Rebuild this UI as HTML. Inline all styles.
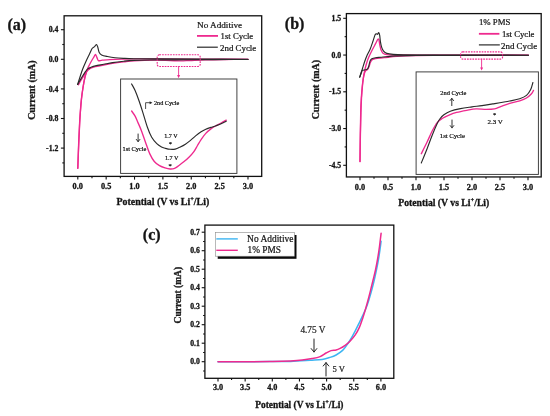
<!DOCTYPE html>
<html><head><meta charset="utf-8"><title>Figure</title>
<style>
html,body{margin:0;padding:0;background:#fff;}
svg{display:block;filter:blur(0.3px);font-family:"Liberation Serif","Times New Roman",serif;}
</style></head><body>
<svg width="550" height="416" viewBox="0 0 550 416">
<rect width="550" height="416" fill="#fff"/>
<path d="M248.00 59.40 C244.17 59.42 232.17 59.43 225.00 59.50 C217.83 59.57 210.83 59.63 205.00 59.80 C199.17 59.97 194.00 60.32 190.00 60.50 C186.00 60.68 184.33 60.88 181.00 60.90 C177.67 60.92 174.33 60.72 170.00 60.60 C165.67 60.48 161.00 60.17 155.00 60.20 C149.00 60.23 139.18 60.53 134.00 60.80 C128.82 61.07 127.48 61.38 123.90 61.80 C120.32 62.22 115.87 62.77 112.50 63.30 C109.13 63.83 106.57 64.43 103.70 65.00 C100.83 65.57 97.48 66.17 95.30 66.70 C93.12 67.23 91.72 67.75 90.60 68.20 C89.48 68.65 89.27 68.77 88.60 69.40 C87.93 70.03 87.22 70.62 86.60 72.00 C85.98 73.38 85.50 75.12 84.90 77.70 C84.30 80.28 83.58 83.95 83.00 87.50 C82.42 91.05 81.85 94.92 81.40 99.00 C80.95 103.08 80.60 108.00 80.30 112.00 C80.00 116.00 79.88 117.50 79.60 123.00 C79.32 128.50 78.90 137.45 78.60 145.00 C78.30 152.55 77.93 164.42 77.80 168.30" fill="none" stroke="#ee2a8f" stroke-width="1.35" stroke-linejoin="round" stroke-linecap="round" />
<path d="M77.80 168.30 C77.95 164.42 78.38 152.55 78.70 145.00 C79.02 137.45 79.42 128.50 79.70 123.00 C79.98 117.50 80.10 116.00 80.40 112.00 C80.70 108.00 81.05 103.17 81.50 99.00 C81.95 94.83 82.55 90.55 83.10 87.00 C83.65 83.45 84.28 80.12 84.80 77.70 C85.32 75.28 85.67 74.18 86.20 72.50 C86.73 70.82 87.17 69.43 88.00 67.60 C88.83 65.77 90.20 63.30 91.20 61.50 C92.20 59.70 93.28 57.98 94.00 56.80 C94.72 55.62 95.02 54.30 95.50 54.40 C95.98 54.50 96.42 56.37 96.90 57.40 C97.38 58.43 97.50 60.13 98.40 60.60 C99.30 61.07 100.38 60.37 102.30 60.20 C104.22 60.03 106.72 59.78 109.90 59.60 C113.08 59.42 117.38 59.23 121.40 59.10 C125.42 58.97 127.57 58.83 134.00 58.80 C140.43 58.77 149.00 58.85 160.00 58.90 C171.00 58.95 185.33 59.03 200.00 59.10 C214.67 59.17 240.00 59.27 248.00 59.30" fill="none" stroke="#ee2a8f" stroke-width="1.35" stroke-linejoin="round" stroke-linecap="round" />
<path d="M90.60 68.30 C90.07 68.65 88.28 69.57 87.40 70.40 C86.52 71.23 86.02 72.23 85.30 73.30 C84.58 74.37 83.88 75.52 83.10 76.80 C82.32 78.08 81.38 79.67 80.60 81.00 C79.82 82.33 78.77 84.17 78.40 84.80" fill="none" stroke="#ee2a8f" stroke-width="1.3" stroke-linejoin="round" stroke-linecap="round" />
<path d="M77.60 84.50 C78.00 83.25 79.17 79.53 80.00 77.00 C80.83 74.47 81.65 71.80 82.60 69.30 C83.55 66.80 84.55 64.55 85.70 62.00 C86.85 59.45 88.43 56.25 89.50 54.00 C90.57 51.75 91.25 49.73 92.10 48.50 C92.95 47.27 93.87 47.27 94.60 46.60 C95.33 45.93 95.97 44.40 96.50 44.50 C97.03 44.60 97.37 45.90 97.80 47.20 C98.23 48.50 98.47 51.02 99.10 52.30 C99.73 53.58 100.22 54.20 101.60 54.90 C102.98 55.60 105.17 56.02 107.40 56.50 C109.63 56.98 112.25 57.48 115.00 57.80 C117.75 58.12 120.73 58.25 123.90 58.40 C127.07 58.55 127.98 58.62 134.00 58.70 C140.02 58.78 149.00 58.83 160.00 58.90 C171.00 58.97 185.33 59.03 200.00 59.10 C214.67 59.17 240.00 59.27 248.00 59.30" fill="none" stroke="#2a2a2a" stroke-width="1.15" stroke-linejoin="round" stroke-linecap="round" />
<path d="M248.00 59.50 C242.50 59.52 224.67 59.55 215.00 59.60 C205.33 59.65 197.50 59.75 190.00 59.80 C182.50 59.85 176.67 59.87 170.00 59.90 C163.33 59.93 156.00 59.92 150.00 60.00 C144.00 60.08 138.35 60.20 134.00 60.40 C129.65 60.60 127.48 60.83 123.90 61.20 C120.32 61.57 115.87 62.08 112.50 62.60 C109.13 63.12 106.57 63.75 103.70 64.30 C100.83 64.85 97.55 65.35 95.30 65.90 C93.05 66.45 91.37 67.17 90.20 67.60 C89.03 68.03 88.87 68.13 88.30 68.50 C87.73 68.87 87.38 69.12 86.80 69.80 C86.22 70.48 85.50 71.57 84.80 72.60 C84.10 73.63 83.40 74.70 82.60 76.00 C81.80 77.30 80.83 78.98 80.00 80.40 C79.17 81.82 78.00 83.82 77.60 84.50" fill="none" stroke="#2a2a2a" stroke-width="1.15" stroke-linejoin="round" stroke-linecap="round" />
<rect x="64.10" y="15.80" width="197.60" height="160.60" fill="none" stroke="#111" stroke-width="1.3"/>
<line x1="77.80" y1="176.40" x2="77.80" y2="179.60" stroke="#111" stroke-width="1.1"/>
<text x="77.80" y="189.00" font-size="8.3" font-weight="bold" text-anchor="middle" fill="#141414" stroke="#141414" stroke-width="0.3" >0.0</text>
<line x1="106.16" y1="176.40" x2="106.16" y2="179.60" stroke="#111" stroke-width="1.1"/>
<text x="106.16" y="189.00" font-size="8.3" font-weight="bold" text-anchor="middle" fill="#141414" stroke="#141414" stroke-width="0.3" >0.5</text>
<line x1="134.53" y1="176.40" x2="134.53" y2="179.60" stroke="#111" stroke-width="1.1"/>
<text x="134.53" y="189.00" font-size="8.3" font-weight="bold" text-anchor="middle" fill="#141414" stroke="#141414" stroke-width="0.3" >1.0</text>
<line x1="162.89" y1="176.40" x2="162.89" y2="179.60" stroke="#111" stroke-width="1.1"/>
<text x="162.89" y="189.00" font-size="8.3" font-weight="bold" text-anchor="middle" fill="#141414" stroke="#141414" stroke-width="0.3" >1.5</text>
<line x1="191.26" y1="176.40" x2="191.26" y2="179.60" stroke="#111" stroke-width="1.1"/>
<text x="191.26" y="189.00" font-size="8.3" font-weight="bold" text-anchor="middle" fill="#141414" stroke="#141414" stroke-width="0.3" >2.0</text>
<line x1="219.62" y1="176.40" x2="219.62" y2="179.60" stroke="#111" stroke-width="1.1"/>
<text x="219.62" y="189.00" font-size="8.3" font-weight="bold" text-anchor="middle" fill="#141414" stroke="#141414" stroke-width="0.3" >2.5</text>
<line x1="247.99" y1="176.40" x2="247.99" y2="179.60" stroke="#111" stroke-width="1.1"/>
<text x="247.99" y="189.00" font-size="8.3" font-weight="bold" text-anchor="middle" fill="#141414" stroke="#141414" stroke-width="0.3" >3.0</text>
<line x1="91.98" y1="176.40" x2="91.98" y2="178.20" stroke="#111" stroke-width="1.1"/>
<line x1="120.35" y1="176.40" x2="120.35" y2="178.20" stroke="#111" stroke-width="1.1"/>
<line x1="148.71" y1="176.40" x2="148.71" y2="178.20" stroke="#111" stroke-width="1.1"/>
<line x1="177.08" y1="176.40" x2="177.08" y2="178.20" stroke="#111" stroke-width="1.1"/>
<line x1="205.44" y1="176.40" x2="205.44" y2="178.20" stroke="#111" stroke-width="1.1"/>
<line x1="233.81" y1="176.40" x2="233.81" y2="178.20" stroke="#111" stroke-width="1.1"/>
<line x1="60.90" y1="29.70" x2="64.10" y2="29.70" stroke="#111" stroke-width="1.1"/>
<text x="58.40" y="32.30" font-size="7.750000000000001" font-weight="bold" text-anchor="end" fill="#141414" stroke="#141414" stroke-width="0.3" >0.4</text>
<line x1="60.90" y1="59.30" x2="64.10" y2="59.30" stroke="#111" stroke-width="1.1"/>
<text x="58.40" y="61.90" font-size="7.750000000000001" font-weight="bold" text-anchor="end" fill="#141414" stroke="#141414" stroke-width="0.3" >0.0</text>
<line x1="60.90" y1="88.90" x2="64.10" y2="88.90" stroke="#111" stroke-width="1.1"/>
<text x="58.40" y="91.50" font-size="7.750000000000001" font-weight="bold" text-anchor="end" fill="#141414" stroke="#141414" stroke-width="0.3" >-0.4</text>
<line x1="60.90" y1="118.50" x2="64.10" y2="118.50" stroke="#111" stroke-width="1.1"/>
<text x="58.40" y="121.10" font-size="7.750000000000001" font-weight="bold" text-anchor="end" fill="#141414" stroke="#141414" stroke-width="0.3" >-0.8</text>
<line x1="60.90" y1="148.10" x2="64.10" y2="148.10" stroke="#111" stroke-width="1.1"/>
<text x="58.40" y="150.70" font-size="7.750000000000001" font-weight="bold" text-anchor="end" fill="#141414" stroke="#141414" stroke-width="0.3" >-1.2</text>
<line x1="62.30" y1="44.50" x2="64.10" y2="44.50" stroke="#111" stroke-width="1.1"/>
<line x1="62.30" y1="74.10" x2="64.10" y2="74.10" stroke="#111" stroke-width="1.1"/>
<line x1="62.30" y1="103.70" x2="64.10" y2="103.70" stroke="#111" stroke-width="1.1"/>
<line x1="62.30" y1="133.30" x2="64.10" y2="133.30" stroke="#111" stroke-width="1.1"/>
<line x1="62.30" y1="162.90" x2="64.10" y2="162.90" stroke="#111" stroke-width="1.1"/>
<text x="162.90" y="204.90" font-size="9.9" font-weight="bold" text-anchor="middle" fill="#141414" stroke="#141414" stroke-width="0.3" >Potential (V vs Li<tspan font-size="6.4" dy="-3.7">+</tspan><tspan dy="3.7">/Li)</tspan></text>
<text transform="translate(35.40 90.10) rotate(-90)" font-size="10.0" font-weight="bold" text-anchor="middle" fill="#1a1a1a" stroke="#1a1a1a" stroke-width="0.3">Current (mA)</text>
<text x="7.50" y="30.00" font-size="16" font-weight="bold" text-anchor="start" fill="#141414" stroke="#141414" stroke-width="0.3" >(a)</text>
<text x="197.00" y="27.70" font-size="9.2"  text-anchor="start" fill="#141414" stroke="#141414" stroke-width="0.22" >No Additive</text>
<line x1="197" y1="35.9" x2="218" y2="35.9" stroke="#ee2a8f" stroke-width="1.8"/>
<text x="220.60" y="39.30" font-size="8.7"  text-anchor="start" fill="#141414" stroke="#141414" stroke-width="0.22" >1st Cycle</text>
<line x1="197" y1="47.2" x2="217.8" y2="47.2" stroke="#2a2a2a" stroke-width="1.2"/>
<text x="220.00" y="50.80" font-size="8.9"  text-anchor="start" fill="#141414" stroke="#141414" stroke-width="0.22" >2nd Cycle</text>
<rect x="157.20" y="54.80" width="43.00" height="11.70" rx="2.2" ry="2.2" fill="none" stroke="#ee2a8f" stroke-width="1.1" stroke-dasharray="1.7 1.0"/>
<path d="M178.60 66.50 L178.60 76.20" fill="none" stroke="#ee2a8f" stroke-width="0.9" stroke-linejoin="round" stroke-linecap="round" />
<path d="M177.10 75.00 L180.10 75.00 L178.60 78.20 Z" fill="#ee2a8f"/>
<rect x="120.6" y="79.0" width="116.3" height="94.4" fill="#fff" stroke="#3a3a3a" stroke-width="0.95"/>
<path d="M131.60 111.00 C132.18 111.85 134.08 114.27 135.10 116.10 C136.12 117.93 136.63 119.53 137.70 122.00 C138.77 124.47 140.12 127.28 141.50 130.90 C142.88 134.52 144.62 139.87 146.00 143.70 C147.38 147.53 148.42 150.93 149.80 153.90 C151.18 156.87 152.68 159.55 154.30 161.50 C155.92 163.45 157.72 164.53 159.50 165.60 C161.28 166.67 163.23 167.33 165.00 167.90 C166.77 168.47 168.50 168.92 170.10 169.00 C171.70 169.08 173.12 168.98 174.60 168.40 C176.08 167.82 177.42 166.63 179.00 165.50 C180.58 164.37 182.40 163.02 184.10 161.60 C185.80 160.18 187.60 158.62 189.20 157.00 C190.80 155.38 192.32 153.82 193.70 151.90 C195.08 149.98 196.22 147.63 197.50 145.50 C198.78 143.37 200.02 141.12 201.40 139.10 C202.78 137.08 204.22 135.10 205.80 133.40 C207.38 131.70 209.20 130.18 210.90 128.90 C212.60 127.62 214.30 126.68 216.00 125.70 C217.70 124.72 219.40 123.92 221.10 123.00 C222.80 122.08 225.35 120.67 226.20 120.20" fill="none" stroke="#ee2a8f" stroke-width="1.35" stroke-linejoin="round" stroke-linecap="round" />
<path d="M131.60 83.90 C132.18 85.02 133.87 87.78 135.10 90.60 C136.33 93.42 137.72 97.18 139.00 100.80 C140.28 104.42 141.42 107.93 142.80 112.30 C144.18 116.67 145.82 122.83 147.30 127.00 C148.78 131.17 150.12 134.52 151.70 137.30 C153.28 140.08 155.17 142.08 156.80 143.70 C158.43 145.32 160.13 146.25 161.50 147.00 C162.87 147.75 163.57 147.82 165.00 148.20 C166.43 148.58 168.40 149.15 170.10 149.30 C171.80 149.45 173.50 149.48 175.20 149.10 C176.90 148.72 178.60 147.82 180.30 147.00 C182.00 146.18 183.70 145.30 185.40 144.20 C187.10 143.10 188.80 141.78 190.50 140.40 C192.20 139.02 193.90 137.28 195.60 135.90 C197.30 134.52 199.00 133.22 200.70 132.10 C202.40 130.98 204.10 129.98 205.80 129.20 C207.50 128.42 209.20 127.98 210.90 127.40 C212.60 126.82 214.30 126.30 216.00 125.70 C217.70 125.10 219.40 124.55 221.10 123.80 C222.80 123.05 225.35 121.63 226.20 121.20" fill="none" stroke="#2a2a2a" stroke-width="1.15" stroke-linejoin="round" stroke-linecap="round" />
<text x="154.00" y="104.80" font-size="6.2"  text-anchor="start" fill="#141414" stroke="#141414" stroke-width="0.22" >2nd Cycle</text>
<path d="M145.6 108.6 L145.6 102.7 L150.2 102.7" fill="none" stroke="#222" stroke-width="0.8" stroke-linejoin="round" stroke-linecap="round" />
<path d="M149.6 101.2 L152.4 102.7 L149.6 104.2 Z" fill="#222"/>
<text x="122.60" y="150.80" font-size="6.3"  text-anchor="start" fill="#141414" stroke="#141414" stroke-width="0.22" >1st Cycle</text>
<path d="M138.10 134.00 L138.10 141.60" fill="none" stroke="#1a1a1a" stroke-width="0.9" stroke-linejoin="round" stroke-linecap="round" />
<path d="M136.30 139.40 L138.10 141.60 L139.90 139.40" fill="none" stroke="#1a1a1a" stroke-width="0.9" stroke-linejoin="round" stroke-linecap="round" />
<text x="164.20" y="138.00" font-size="6.1"  text-anchor="start" fill="#141414" stroke="#141414" stroke-width="0.22" >1.7 V</text>
<text x="170.30" y="146.20" font-size="6.5"  text-anchor="middle" fill="#141414" stroke="#141414" stroke-width="0.22" >*</text>
<text x="164.90" y="160.30" font-size="6.1"  text-anchor="start" fill="#141414" stroke="#141414" stroke-width="0.22" >1.7 V</text>
<text x="170.10" y="167.50" font-size="6.5"  text-anchor="middle" fill="#141414" stroke="#141414" stroke-width="0.22" >*</text>
<path d="M528.40 55.30 C520.33 55.30 494.73 55.28 480.00 55.30 C465.27 55.32 450.67 55.35 440.00 55.40 C429.33 55.45 423.17 55.43 416.00 55.60 C408.83 55.77 402.28 56.05 397.00 56.40 C391.72 56.75 387.87 57.35 384.30 57.70 C380.73 58.05 377.60 58.18 375.60 58.50 C373.60 58.82 373.15 58.98 372.30 59.60 C371.45 60.22 371.03 61.05 370.50 62.20 C369.97 63.35 369.57 65.30 369.10 66.50 C368.63 67.70 368.28 68.68 367.70 69.40 C367.12 70.12 366.20 69.95 365.60 70.80 C365.00 71.65 364.50 73.13 364.10 74.50 C363.70 75.87 363.50 77.08 363.20 79.00 C362.90 80.92 362.62 82.78 362.30 86.00 C361.98 89.22 361.57 93.80 361.30 98.30 C361.03 102.80 360.87 106.88 360.70 113.00 C360.53 119.12 360.42 126.92 360.30 135.00 C360.18 143.08 360.05 157.08 360.00 161.50" fill="none" stroke="#ee2a8f" stroke-width="1.35" stroke-linejoin="round" stroke-linecap="round" />
<path d="M360.00 161.50 C360.07 157.08 360.25 143.08 360.40 135.00 C360.55 126.92 360.72 119.12 360.90 113.00 C361.08 106.88 361.23 102.88 361.50 98.30 C361.77 93.72 362.18 88.92 362.50 85.50 C362.82 82.08 363.05 80.22 363.40 77.80 C363.75 75.38 364.12 73.25 364.60 71.00 C365.08 68.75 365.63 66.53 366.30 64.30 C366.97 62.07 367.62 59.98 368.60 57.60 C369.58 55.22 371.03 52.33 372.20 50.00 C373.37 47.67 374.67 45.37 375.60 43.60 C376.53 41.83 377.25 40.03 377.80 39.40 C378.35 38.77 378.57 38.88 378.90 39.80 C379.23 40.72 379.43 43.20 379.80 44.90 C380.17 46.60 380.57 48.62 381.10 50.00 C381.63 51.38 382.05 52.42 383.00 53.20 C383.95 53.98 384.88 54.40 386.80 54.70 C388.72 55.00 388.97 54.93 394.50 55.00 C400.03 55.07 397.68 55.07 420.00 55.10 C442.32 55.13 510.33 55.18 528.40 55.20" fill="none" stroke="#ee2a8f" stroke-width="1.35" stroke-linejoin="round" stroke-linecap="round" />
<path d="M359.75 77.10 C359.94 76.46 360.83 73.45 361.20 72.30 C361.57 71.15 362.05 69.90 362.50 68.50 C362.95 67.10 363.97 63.59 364.60 61.80 C365.23 60.01 366.48 56.69 367.20 55.05 C367.92 53.41 369.25 51.28 370.00 49.50 C370.75 47.72 372.12 43.67 372.80 41.70 C373.48 39.73 374.59 35.75 375.10 34.70 C375.61 33.65 376.27 33.85 376.60 33.80 C376.93 33.75 377.32 34.47 377.60 34.30 C377.88 34.13 378.42 32.37 378.70 32.50 C378.98 32.63 379.47 34.07 379.70 35.30 C379.93 36.53 380.13 40.09 380.40 41.70 C380.67 43.31 381.27 46.13 381.70 47.40 C382.13 48.67 382.92 50.40 383.60 51.20 C384.28 52.00 385.52 52.97 386.80 53.40 C388.08 53.83 390.99 54.21 393.20 54.40 C395.41 54.59 397.16 54.72 403.40 54.80 C409.64 54.88 423.33 54.95 440.00 55.00 C456.67 55.05 516.61 55.17 528.40 55.20" fill="none" stroke="#2a2a2a" stroke-width="1.15" stroke-linejoin="round" stroke-linecap="round" />
<path d="M528.40 55.20 C521.95 55.21 491.79 55.27 480.00 55.30 C468.21 55.33 448.53 55.37 440.00 55.40 C431.47 55.43 421.73 55.43 416.00 55.50 C410.27 55.57 400.20 55.82 397.00 55.90 C393.80 55.98 394.07 55.93 392.00 56.10 C389.93 56.27 383.69 56.99 381.50 57.20 C379.31 57.41 376.89 57.49 375.60 57.70 C374.31 57.91 372.53 58.37 371.80 58.80 C371.07 59.23 370.50 59.94 370.10 60.90 C369.70 61.86 369.13 64.93 368.80 66.00 C368.47 67.07 368.04 68.39 367.60 68.90 C367.16 69.41 366.18 69.61 365.50 69.80 C364.82 69.99 363.02 69.98 362.50 70.30 C361.98 70.62 361.97 71.29 361.60 72.20 C361.23 73.11 360.00 76.45 359.75 77.10" fill="none" stroke="#2a2a2a" stroke-width="1.15" stroke-linejoin="round" stroke-linecap="round" />
<rect x="346.40" y="13.60" width="194.80" height="163.35" fill="none" stroke="#111" stroke-width="1.3"/>
<line x1="360.00" y1="176.95" x2="360.00" y2="180.15" stroke="#111" stroke-width="1.1"/>
<text x="360.00" y="189.75" font-size="8.3" font-weight="bold" text-anchor="middle" fill="#141414" stroke="#141414" stroke-width="0.3" >0.0</text>
<line x1="388.00" y1="176.95" x2="388.00" y2="180.15" stroke="#111" stroke-width="1.1"/>
<text x="388.00" y="189.75" font-size="8.3" font-weight="bold" text-anchor="middle" fill="#141414" stroke="#141414" stroke-width="0.3" >0.5</text>
<line x1="416.00" y1="176.95" x2="416.00" y2="180.15" stroke="#111" stroke-width="1.1"/>
<text x="416.00" y="189.75" font-size="8.3" font-weight="bold" text-anchor="middle" fill="#141414" stroke="#141414" stroke-width="0.3" >1.0</text>
<line x1="444.00" y1="176.95" x2="444.00" y2="180.15" stroke="#111" stroke-width="1.1"/>
<text x="444.00" y="189.75" font-size="8.3" font-weight="bold" text-anchor="middle" fill="#141414" stroke="#141414" stroke-width="0.3" >1.5</text>
<line x1="472.00" y1="176.95" x2="472.00" y2="180.15" stroke="#111" stroke-width="1.1"/>
<text x="472.00" y="189.75" font-size="8.3" font-weight="bold" text-anchor="middle" fill="#141414" stroke="#141414" stroke-width="0.3" >2.0</text>
<line x1="500.00" y1="176.95" x2="500.00" y2="180.15" stroke="#111" stroke-width="1.1"/>
<text x="500.00" y="189.75" font-size="8.3" font-weight="bold" text-anchor="middle" fill="#141414" stroke="#141414" stroke-width="0.3" >2.5</text>
<line x1="528.00" y1="176.95" x2="528.00" y2="180.15" stroke="#111" stroke-width="1.1"/>
<text x="528.00" y="189.75" font-size="8.3" font-weight="bold" text-anchor="middle" fill="#141414" stroke="#141414" stroke-width="0.3" >3.0</text>
<line x1="374.00" y1="176.95" x2="374.00" y2="178.75" stroke="#111" stroke-width="1.1"/>
<line x1="402.00" y1="176.95" x2="402.00" y2="178.75" stroke="#111" stroke-width="1.1"/>
<line x1="430.00" y1="176.95" x2="430.00" y2="178.75" stroke="#111" stroke-width="1.1"/>
<line x1="458.00" y1="176.95" x2="458.00" y2="178.75" stroke="#111" stroke-width="1.1"/>
<line x1="486.00" y1="176.95" x2="486.00" y2="178.75" stroke="#111" stroke-width="1.1"/>
<line x1="514.00" y1="176.95" x2="514.00" y2="178.75" stroke="#111" stroke-width="1.1"/>
<line x1="343.20" y1="18.30" x2="346.40" y2="18.30" stroke="#111" stroke-width="1.1"/>
<text x="341.20" y="20.90" font-size="7.750000000000001" font-weight="bold" text-anchor="end" fill="#141414" stroke="#141414" stroke-width="0.3" >1.5</text>
<line x1="343.20" y1="55.05" x2="346.40" y2="55.05" stroke="#111" stroke-width="1.1"/>
<text x="341.20" y="57.65" font-size="7.750000000000001" font-weight="bold" text-anchor="end" fill="#141414" stroke="#141414" stroke-width="0.3" >0.0</text>
<line x1="343.20" y1="91.80" x2="346.40" y2="91.80" stroke="#111" stroke-width="1.1"/>
<text x="341.20" y="94.40" font-size="7.750000000000001" font-weight="bold" text-anchor="end" fill="#141414" stroke="#141414" stroke-width="0.3" >-1.5</text>
<line x1="343.20" y1="128.55" x2="346.40" y2="128.55" stroke="#111" stroke-width="1.1"/>
<text x="341.20" y="131.15" font-size="7.750000000000001" font-weight="bold" text-anchor="end" fill="#141414" stroke="#141414" stroke-width="0.3" >-3.0</text>
<line x1="343.20" y1="165.30" x2="346.40" y2="165.30" stroke="#111" stroke-width="1.1"/>
<text x="341.20" y="167.90" font-size="7.750000000000001" font-weight="bold" text-anchor="end" fill="#141414" stroke="#141414" stroke-width="0.3" >-4.5</text>
<line x1="344.60" y1="36.67" x2="346.40" y2="36.67" stroke="#111" stroke-width="1.1"/>
<line x1="344.60" y1="73.42" x2="346.40" y2="73.42" stroke="#111" stroke-width="1.1"/>
<line x1="344.60" y1="110.17" x2="346.40" y2="110.17" stroke="#111" stroke-width="1.1"/>
<line x1="344.60" y1="146.93" x2="346.40" y2="146.93" stroke="#111" stroke-width="1.1"/>
<text x="443.80" y="205.90" font-size="9.7" font-weight="bold" text-anchor="middle" fill="#141414" stroke="#141414" stroke-width="0.3" >Potential (V vs Li<tspan font-size="6.4" dy="-3.7">+</tspan><tspan dy="3.7">/Li)</tspan></text>
<text transform="translate(318.90 89.60) rotate(-90)" font-size="10.0" font-weight="bold" text-anchor="middle" fill="#1a1a1a" stroke="#1a1a1a" stroke-width="0.3">Current (mA)</text>
<text x="284.80" y="29.00" font-size="16" font-weight="bold" text-anchor="start" fill="#141414" stroke="#141414" stroke-width="0.3" >(b)</text>
<text x="478.90" y="25.10" font-size="8.8"  text-anchor="start" fill="#141414" stroke="#141414" stroke-width="0.22" >1% PMS</text>
<line x1="478.9" y1="33.8" x2="499.4" y2="33.8" stroke="#ee2a8f" stroke-width="1.8"/>
<text x="501.90" y="37.00" font-size="8.7"  text-anchor="start" fill="#141414" stroke="#141414" stroke-width="0.22" >1st Cycle</text>
<line x1="478.9" y1="44.9" x2="499.8" y2="44.9" stroke="#2a2a2a" stroke-width="1.2"/>
<text x="501.00" y="48.90" font-size="8.9"  text-anchor="start" fill="#141414" stroke="#141414" stroke-width="0.22" >2nd Cycle</text>
<rect x="460.60" y="51.90" width="42.00" height="7.20" rx="2.2" ry="2.2" fill="none" stroke="#ee2a8f" stroke-width="1.1" stroke-dasharray="1.7 1.0"/>
<path d="M481.60 59.10 L481.60 68.60" fill="none" stroke="#ee2a8f" stroke-width="0.9" stroke-linejoin="round" stroke-linecap="round" />
<path d="M480.10 67.40 L483.10 67.40 L481.60 70.60 Z" fill="#ee2a8f"/>
<rect x="416.1" y="71.9" width="122.3" height="102.5" fill="#fff" stroke="#3a3a3a" stroke-width="0.95"/>
<path d="M421.30 153.70 C422.27 151.75 425.28 145.78 427.10 142.00 C428.92 138.22 430.52 134.23 432.20 131.00 C433.88 127.77 435.47 124.73 437.20 122.60 C438.93 120.47 440.63 119.45 442.60 118.20 C444.57 116.95 446.67 116.07 449.00 115.10 C451.33 114.13 453.63 113.20 456.60 112.40 C459.57 111.60 463.57 110.88 466.80 110.30 C470.03 109.72 472.78 109.05 476.00 108.90 C479.22 108.75 483.02 109.40 486.10 109.40 C489.18 109.40 491.98 109.40 494.50 108.90 C497.02 108.40 498.67 107.32 501.20 106.40 C503.73 105.48 506.62 104.33 509.70 103.40 C512.78 102.47 516.90 101.70 519.70 100.80 C522.50 99.90 524.53 99.17 526.50 98.00 C528.47 96.83 530.33 95.07 531.50 93.80 C532.67 92.53 533.17 90.97 533.50 90.40" fill="none" stroke="#ee2a8f" stroke-width="1.35" stroke-linejoin="round" stroke-linecap="round" />
<path d="M421.30 163.00 C422.27 160.62 425.28 153.33 427.10 148.70 C428.92 144.07 430.52 139.40 432.20 135.20 C433.88 131.00 435.93 126.20 437.20 123.50 C438.47 120.80 438.68 120.45 439.80 119.00 C440.92 117.55 442.15 116.10 443.90 114.80 C445.65 113.50 447.53 112.23 450.30 111.20 C453.07 110.17 456.88 109.32 460.50 108.60 C464.12 107.88 468.42 107.40 472.00 106.90 C475.58 106.40 478.53 106.10 482.00 105.60 C485.47 105.10 488.18 104.67 492.80 103.90 C497.42 103.13 505.22 101.85 509.70 101.00 C514.18 100.15 516.90 99.73 519.70 98.80 C522.50 97.87 524.67 96.93 526.50 95.40 C528.33 93.87 529.63 91.75 530.70 89.60 C531.77 87.45 532.53 83.68 532.90 82.50" fill="none" stroke="#2a2a2a" stroke-width="1.15" stroke-linejoin="round" stroke-linecap="round" />
<text x="440.30" y="94.70" font-size="6.4"  text-anchor="start" fill="#141414" stroke="#141414" stroke-width="0.22" >2nd Cycle</text>
<path d="M451.80 105.60 L451.80 98.40" fill="none" stroke="#1a1a1a" stroke-width="0.9" stroke-linejoin="round" stroke-linecap="round" />
<path d="M450.00 100.60 L451.80 98.40 L453.60 100.60" fill="none" stroke="#1a1a1a" stroke-width="0.9" stroke-linejoin="round" stroke-linecap="round" />
<text x="439.80" y="137.90" font-size="6.7"  text-anchor="start" fill="#141414" stroke="#141414" stroke-width="0.22" >1st Cycle</text>
<path d="M452.00 120.00 L452.00 127.80" fill="none" stroke="#1a1a1a" stroke-width="0.9" stroke-linejoin="round" stroke-linecap="round" />
<path d="M450.20 125.60 L452.00 127.80 L453.80 125.60" fill="none" stroke="#1a1a1a" stroke-width="0.9" stroke-linejoin="round" stroke-linecap="round" />
<text x="487.40" y="123.70" font-size="7.0"  text-anchor="start" fill="#141414" stroke="#141414" stroke-width="0.22" >2.3 V</text>
<text x="494.50" y="117.30" font-size="6.5"  text-anchor="middle" fill="#141414" stroke="#141414" stroke-width="0.22" >*</text>
<path d="M218.00 361.70 C223.43 361.70 241.50 361.72 250.60 361.70 C259.70 361.68 265.93 361.65 272.60 361.60 C279.27 361.55 284.34 361.62 290.60 361.40 C296.86 361.17 304.90 360.58 310.15 360.25 C315.40 359.92 318.78 359.88 322.10 359.40 C325.43 358.92 327.77 358.13 330.10 357.40 C332.43 356.67 334.02 356.17 336.10 355.00 C338.18 353.83 340.85 352.00 342.60 350.40 C344.35 348.80 345.33 347.13 346.60 345.40 C347.87 343.67 348.76 342.43 350.20 340.00 C351.64 337.57 353.70 333.75 355.25 330.80 C356.80 327.85 358.24 324.87 359.50 322.30 C360.76 319.73 361.70 317.78 362.80 315.40 C363.90 313.02 365.10 310.53 366.10 308.00 C367.10 305.47 367.92 302.97 368.80 300.20 C369.68 297.43 370.55 294.48 371.40 291.40 C372.25 288.32 373.10 285.10 373.90 281.70 C374.70 278.30 375.48 274.45 376.20 271.00 C376.92 267.55 377.60 264.33 378.20 261.00 C378.80 257.67 379.32 254.30 379.80 251.00 C380.28 247.70 380.88 242.83 381.10 241.20" fill="none" stroke="#3db5f2" stroke-width="1.5" stroke-linejoin="round" stroke-linecap="round" />
<path d="M218.00 361.70 C223.43 361.70 241.50 361.73 250.60 361.70 C259.70 361.67 265.93 361.63 272.60 361.50 C279.27 361.37 285.64 361.14 290.60 360.90 C295.56 360.66 298.77 360.43 302.35 360.05 C305.93 359.67 309.14 359.18 312.10 358.60 C315.06 358.03 317.77 357.53 320.10 356.60 C322.43 355.67 324.27 354.00 326.10 353.00 C327.93 352.00 329.43 351.10 331.10 350.60 C332.77 350.10 334.60 350.37 336.10 350.00 C337.60 349.63 338.59 349.18 340.10 348.40 C341.61 347.62 343.47 346.53 345.15 345.30 C346.83 344.07 348.52 342.73 350.20 341.00 C351.88 339.27 353.70 337.22 355.25 334.90 C356.80 332.58 358.24 329.93 359.50 327.10 C360.76 324.27 361.82 320.83 362.80 317.90 C363.78 314.97 364.53 312.45 365.40 309.50 C366.27 306.55 367.13 303.43 368.00 300.20 C368.87 296.97 369.75 293.47 370.60 290.10 C371.45 286.73 372.28 283.35 373.10 280.00 C373.92 276.65 374.75 273.50 375.50 270.00 C376.25 266.50 376.93 262.92 377.60 259.00 C378.27 255.08 378.92 250.78 379.50 246.50 C380.08 242.22 380.83 235.50 381.10 233.30" fill="none" stroke="#ee2a8f" stroke-width="1.5" stroke-linejoin="round" stroke-linecap="round" />
<rect x="204.90" y="225.10" width="188.90" height="153.20" fill="none" stroke="#111" stroke-width="1.3"/>
<line x1="218.00" y1="378.30" x2="218.00" y2="381.50" stroke="#111" stroke-width="1.1"/>
<text x="218.00" y="389.80" font-size="8.2" font-weight="bold" text-anchor="middle" fill="#141414" stroke="#141414" stroke-width="0.3" >3.0</text>
<line x1="245.15" y1="378.30" x2="245.15" y2="381.50" stroke="#111" stroke-width="1.1"/>
<text x="245.15" y="389.80" font-size="8.2" font-weight="bold" text-anchor="middle" fill="#141414" stroke="#141414" stroke-width="0.3" >3.5</text>
<line x1="272.30" y1="378.30" x2="272.30" y2="381.50" stroke="#111" stroke-width="1.1"/>
<text x="272.30" y="389.80" font-size="8.2" font-weight="bold" text-anchor="middle" fill="#141414" stroke="#141414" stroke-width="0.3" >4.0</text>
<line x1="299.45" y1="378.30" x2="299.45" y2="381.50" stroke="#111" stroke-width="1.1"/>
<text x="299.45" y="389.80" font-size="8.2" font-weight="bold" text-anchor="middle" fill="#141414" stroke="#141414" stroke-width="0.3" >4.5</text>
<line x1="326.60" y1="378.30" x2="326.60" y2="381.50" stroke="#111" stroke-width="1.1"/>
<text x="326.60" y="389.80" font-size="8.2" font-weight="bold" text-anchor="middle" fill="#141414" stroke="#141414" stroke-width="0.3" >5.0</text>
<line x1="353.75" y1="378.30" x2="353.75" y2="381.50" stroke="#111" stroke-width="1.1"/>
<text x="353.75" y="389.80" font-size="8.2" font-weight="bold" text-anchor="middle" fill="#141414" stroke="#141414" stroke-width="0.3" >5.5</text>
<line x1="380.90" y1="378.30" x2="380.90" y2="381.50" stroke="#111" stroke-width="1.1"/>
<text x="380.90" y="389.80" font-size="8.2" font-weight="bold" text-anchor="middle" fill="#141414" stroke="#141414" stroke-width="0.3" >6.0</text>
<line x1="231.57" y1="378.30" x2="231.57" y2="380.10" stroke="#111" stroke-width="1.1"/>
<line x1="258.73" y1="378.30" x2="258.73" y2="380.10" stroke="#111" stroke-width="1.1"/>
<line x1="285.88" y1="378.30" x2="285.88" y2="380.10" stroke="#111" stroke-width="1.1"/>
<line x1="313.02" y1="378.30" x2="313.02" y2="380.10" stroke="#111" stroke-width="1.1"/>
<line x1="340.18" y1="378.30" x2="340.18" y2="380.10" stroke="#111" stroke-width="1.1"/>
<line x1="367.32" y1="378.30" x2="367.32" y2="380.10" stroke="#111" stroke-width="1.1"/>
<line x1="201.70" y1="361.70" x2="204.90" y2="361.70" stroke="#111" stroke-width="1.1"/>
<text x="199.80" y="364.35" font-size="7.7" font-weight="bold" text-anchor="end" fill="#141414" stroke="#141414" stroke-width="0.3" >0.0</text>
<line x1="201.70" y1="343.20" x2="204.90" y2="343.20" stroke="#111" stroke-width="1.1"/>
<text x="199.80" y="345.85" font-size="7.7" font-weight="bold" text-anchor="end" fill="#141414" stroke="#141414" stroke-width="0.3" >0.1</text>
<line x1="201.70" y1="324.70" x2="204.90" y2="324.70" stroke="#111" stroke-width="1.1"/>
<text x="199.80" y="327.35" font-size="7.7" font-weight="bold" text-anchor="end" fill="#141414" stroke="#141414" stroke-width="0.3" >0.2</text>
<line x1="201.70" y1="306.20" x2="204.90" y2="306.20" stroke="#111" stroke-width="1.1"/>
<text x="199.80" y="308.85" font-size="7.7" font-weight="bold" text-anchor="end" fill="#141414" stroke="#141414" stroke-width="0.3" >0.3</text>
<line x1="201.70" y1="287.70" x2="204.90" y2="287.70" stroke="#111" stroke-width="1.1"/>
<text x="199.80" y="290.35" font-size="7.7" font-weight="bold" text-anchor="end" fill="#141414" stroke="#141414" stroke-width="0.3" >0.4</text>
<line x1="201.70" y1="269.20" x2="204.90" y2="269.20" stroke="#111" stroke-width="1.1"/>
<text x="199.80" y="271.85" font-size="7.7" font-weight="bold" text-anchor="end" fill="#141414" stroke="#141414" stroke-width="0.3" >0.5</text>
<line x1="201.70" y1="250.70" x2="204.90" y2="250.70" stroke="#111" stroke-width="1.1"/>
<text x="199.80" y="253.35" font-size="7.7" font-weight="bold" text-anchor="end" fill="#141414" stroke="#141414" stroke-width="0.3" >0.6</text>
<line x1="201.70" y1="232.20" x2="204.90" y2="232.20" stroke="#111" stroke-width="1.1"/>
<text x="199.80" y="234.85" font-size="7.7" font-weight="bold" text-anchor="end" fill="#141414" stroke="#141414" stroke-width="0.3" >0.7</text>
<line x1="203.10" y1="370.95" x2="204.90" y2="370.95" stroke="#111" stroke-width="1.1"/>
<line x1="203.10" y1="352.45" x2="204.90" y2="352.45" stroke="#111" stroke-width="1.1"/>
<line x1="203.10" y1="333.95" x2="204.90" y2="333.95" stroke="#111" stroke-width="1.1"/>
<line x1="203.10" y1="315.45" x2="204.90" y2="315.45" stroke="#111" stroke-width="1.1"/>
<line x1="203.10" y1="296.95" x2="204.90" y2="296.95" stroke="#111" stroke-width="1.1"/>
<line x1="203.10" y1="278.45" x2="204.90" y2="278.45" stroke="#111" stroke-width="1.1"/>
<line x1="203.10" y1="259.95" x2="204.90" y2="259.95" stroke="#111" stroke-width="1.1"/>
<line x1="203.10" y1="241.45" x2="204.90" y2="241.45" stroke="#111" stroke-width="1.1"/>
<text x="299.35" y="407.60" font-size="9.4" font-weight="bold" text-anchor="middle" fill="#141414" stroke="#141414" stroke-width="0.3" >Potential (V vs Li<tspan font-size="6.4" dy="-3.7">+</tspan><tspan dy="3.7">/Li)</tspan></text>
<text transform="translate(181.00 295.20) rotate(-90)" font-size="9.5" font-weight="bold" text-anchor="middle" fill="#1a1a1a" stroke="#1a1a1a" stroke-width="0.3">Current (mA)</text>
<text x="142.80" y="239.90" font-size="16" font-weight="bold" text-anchor="start" fill="#141414" stroke="#141414" stroke-width="0.3" >(c)</text>
<rect x="217.7" y="235.0" width="78.8" height="23.8" fill="#0a0a0a"/>
<rect x="215.4" y="232.6" width="79.0" height="23.6" fill="#fff" stroke="#8a8a8a" stroke-width="0.6"/>
<line x1="216.3" y1="238.9" x2="237.8" y2="238.9" stroke="#3db5f2" stroke-width="1.4"/>
<line x1="216.3" y1="250.3" x2="237.8" y2="250.3" stroke="#ee2a8f" stroke-width="1.4"/>
<text x="247.10" y="241.70" font-size="9.45"  text-anchor="start" fill="#141414" stroke="#141414" stroke-width="0.22" >No Additive</text>
<text x="247.60" y="253.40" font-size="9.3"  text-anchor="start" fill="#141414" stroke="#141414" stroke-width="0.22" >1% PMS</text>
<text x="300.40" y="332.60" font-size="9.3"  text-anchor="start" fill="#262626" stroke="#262626" stroke-width="0.22" >4.75 V</text>
<path d="M314.00 339.00 L314.00 352.00" fill="none" stroke="#222" stroke-width="1.0" stroke-linejoin="round" stroke-linecap="round" />
<path d="M311.20 348.60 L314.00 352.00 L316.80 348.60" fill="none" stroke="#222" stroke-width="1.0" stroke-linejoin="round" stroke-linecap="round" />
<path d="M326.00 376.00 L326.00 362.60" fill="none" stroke="#222" stroke-width="1.0" stroke-linejoin="round" stroke-linecap="round" />
<path d="M323.20 366.00 L326.00 362.60 L328.80 366.00" fill="none" stroke="#222" stroke-width="1.0" stroke-linejoin="round" stroke-linecap="round" />
<text x="332.40" y="372.00" font-size="8.6"  text-anchor="start" fill="#262626" stroke="#262626" stroke-width="0.22" >5 V</text>
</svg>
</body></html>
